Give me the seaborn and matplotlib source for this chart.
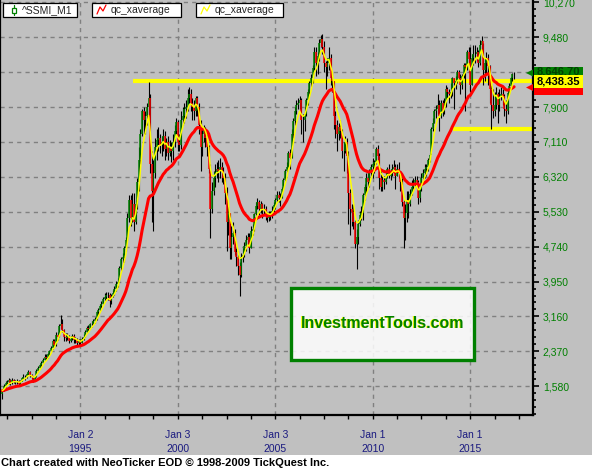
import matplotlib
matplotlib.use("Agg")
import matplotlib.pyplot as plt
import matplotlib.patches as mpatches
from matplotlib.ticker import FixedLocator, FuncFormatter
import numpy as np
import pandas as pd
import seaborn as sns

# monthly bars of ^SSMI, Jan 1991 .. Apr 2017
first_month = "1991-01-01"
first_open = 1400

close_px = [
    1480, 1580, 1650, 1680, 1720, 1660, 1720, 1700, 1680, 1700, 1640, 1680,  # 1991
    1760, 1800, 1780, 1850, 1900, 1830, 1800, 1720, 1800, 1920, 2000, 2050,  # 1992
    2100, 2180, 2250, 2230, 2300, 2370, 2450, 2600, 2520, 2750, 2700, 2950,  # 1993
    3000, 2850, 2700, 2680, 2720, 2600, 2650, 2720, 2620, 2640, 2560, 2600,  # 1994
    2560, 2650, 2700, 2800, 2900, 2880, 2980, 3000, 3050, 3100, 3250, 3300,  # 1995
    3400, 3450, 3550, 3600, 3650, 3650, 3500, 3620, 3700, 3780, 3900, 3950,  # 1996
    4250, 4450, 4500, 4700, 4900, 5400, 5800, 5400, 5700, 5300, 5700, 6200,  # 1997
    6700, 7300, 7800, 7600, 7700, 7900, 8100, 6600, 6000, 6400, 7000, 7160,  # 1998
    7200, 7050, 7100, 7250, 6950, 7100, 6850, 7000, 6900, 7100, 7350, 7570,  # 1999
    7100, 7050, 7600, 7700, 7850, 7900, 8100, 8200, 8000, 7900, 7800, 8100,  # 2000
    7900, 7500, 7000, 7300, 7400, 7200, 7000, 6500, 5600, 6000, 6300, 6420,  # 2001
    6500, 6450, 6550, 6450, 6300, 5950, 5300, 5500, 4700, 4950, 5050, 4630,  # 2002
    4500, 4300, 4100, 4500, 4550, 4750, 4900, 4950, 4700, 5100, 5150, 5490,  # 2003
    5650, 5750, 5600, 5700, 5600, 5600, 5450, 5400, 5450, 5450, 5550, 5690,  # 2004
    5800, 5900, 5850, 5850, 6050, 6250, 6450, 6550, 6850, 6750, 7300, 7580,  # 2005
    7800, 7950, 8000, 8050, 7600, 7600, 7750, 8050, 8250, 8450, 8550, 8790,  # 2006
    9150, 8900, 9050, 9350, 9450, 9250, 8900, 8800, 8900, 9000, 8550, 8480,  # 2007
    7700, 7500, 7300, 7450, 7350, 6900, 6900, 7100, 6800, 5950, 5600, 5530,  # 2008
    5300, 4800, 4950, 5250, 5450, 5500, 5900, 6100, 6300, 6200, 6400, 6550,  # 2009
    6600, 6650, 6950, 6800, 6300, 6100, 6250, 6200, 6300, 6500, 6350, 6440,  # 2010
    6500, 6550, 6350, 6500, 6450, 6200, 5750, 5400, 5500, 5800, 5700, 5940,  # 2011
    6100, 6150, 6250, 6200, 5850, 6050, 6300, 6400, 6500, 6550, 6700, 6820,  # 2012
    7400, 7550, 7800, 7850, 7950, 7700, 8000, 7800, 8000, 8300, 8250, 8200,  # 2013
    8250, 8550, 8450, 8500, 8700, 8550, 8400, 8600, 8850, 8800, 9150, 8980,  # 2014
    8400, 9000, 9100, 9100, 9150, 8900, 9300, 9400, 8750, 8900, 9000, 8820,  # 2015
    8300, 7950, 7800, 7950, 8200, 7950, 8150, 8200, 8150, 7850, 7800, 8220,  # 2016
    8380, 8550, 8650, 8646.7,                                                # 2017
]

high_px = [
    1520, 1620, 1700, 1720, 1760, 1740, 1760, 1750, 1730, 1740, 1720, 1720,
    1800, 1850, 1840, 1880, 1940, 1920, 1850, 1820, 1840, 1960, 2030, 2090,
    2150, 2220, 2300, 2300, 2340, 2400, 2480, 2650, 2640, 2800, 2800, 3000,
    3190, 3100, 2880, 2780, 2790, 2740, 2700, 2760, 2760, 2700, 2680, 2660,
    2640, 2700, 2760, 2850, 2940, 2960, 3020, 3060, 3100, 3150, 3280, 3350,
    3450, 3520, 3600, 3680, 3720, 3720, 3680, 3660, 3760, 3840, 3960, 4020,
    4300, 4500, 4600, 4750, 4950, 5500, 5900, 5900, 5950, 5950, 5800, 6300,
    7000, 7400, 7850, 7900, 7800, 8000, 8470, 8200, 6900, 6700, 7200, 7400,
    7450, 7300, 7250, 7400, 7350, 7200, 7250, 7150, 7100, 7300, 7500, 7650,
    7600, 7300, 7800, 7900, 8000, 8050, 8300, 8360, 8300, 8100, 8050, 8150,
    8150, 8000, 7600, 7450, 7500, 7450, 7300, 7050, 6600, 6200, 6450, 6600,
    6650, 6700, 6750, 6650, 6550, 6400, 6100, 5650, 5500, 5200, 5300, 5150,
    4700, 4650, 4400, 4600, 4700, 4850, 5000, 5050, 5050, 5200, 5250, 5500,
    5750, 5850, 5800, 5780, 5720, 5700, 5650, 5500, 5550, 5550, 5650, 5750,
    5850, 6000, 6000, 5950, 6100, 6300, 6500, 6650, 6900, 6950, 7400, 7650,
    7900, 8050, 8100, 8150, 8100, 7750, 7900, 8100, 8300, 8500, 8650, 8850,
    9250, 9250, 9150, 9450, 9530, 9550, 9400, 8950, 9000, 9250, 9100, 8700,
    8500, 7800, 7600, 7550, 7600, 7400, 7100, 7250, 7200, 6900, 6050, 5700,
    5700, 5350, 5150, 5350, 5550, 5650, 5950, 6150, 6400, 6450, 6500, 6600,
    6750, 6700, 7000, 7050, 6850, 6500, 6350, 6350, 6450, 6550, 6600, 6500,
    6600, 6700, 6600, 6600, 6650, 6450, 6300, 5800, 5700, 6000, 6000, 6050,
    6250, 6300, 6350, 6350, 6250, 6150, 6400, 6500, 6600, 6600, 6750, 6850,
    7450, 7650, 7850, 7950, 8200, 8050, 8050, 8050, 8100, 8400, 8350, 8300,
    8450, 8580, 8550, 8600, 8750, 8750, 8650, 8650, 8900, 8900, 9200, 9250,
    9250, 9100, 9300, 9300, 9250, 9200, 9420, 9500, 9350, 9000, 9150, 9100,
    8850, 8400, 8300, 8250, 8350, 8250, 8300, 8350, 8300, 8200, 8050, 8300,
    8450, 8580, 8680, 8690,
]

low_px = [
    1300, 1470, 1560, 1620, 1640, 1600, 1640, 1650, 1630, 1640, 1600, 1610,
    1690, 1740, 1730, 1760, 1830, 1790, 1740, 1680, 1700, 1790, 1900, 1970,
    2020, 2080, 2170, 2180, 2220, 2280, 2380, 2430, 2460, 2500, 2620, 2690,
    2880, 2800, 2600, 2600, 2620, 2560, 2580, 2620, 2560, 2570, 2480, 2500,
    2480, 2550, 2620, 2700, 2780, 2820, 2880, 2920, 2960, 3020, 3080, 3200,
    3280, 3350, 3440, 3500, 3560, 3540, 3380, 3440, 3600, 3650, 3740, 3820,
    3950, 4200, 4350, 4400, 4650, 4900, 5300, 5200, 5300, 5100, 5250, 5600,
    6000, 6600, 7250, 7300, 7300, 7500, 7700, 6400, 5300, 5100, 6300, 6700,
    6900, 6850, 6800, 6900, 6700, 6800, 6700, 6800, 6650, 6700, 7000, 7300,
    6900, 6900, 6950, 7500, 7550, 7650, 7800, 8000, 7800, 7600, 7600, 7700,
    7700, 7300, 6450, 6800, 7100, 7000, 6800, 6400, 4935, 5500, 5900, 6100,
    6300, 6200, 6300, 6200, 6150, 5700, 4640, 5000, 4450, 4450, 4800, 4550,
    4300, 4100, 3620, 4050, 4400, 4500, 4650, 4800, 4600, 4700, 5000, 5100,
    5450, 5600, 5450, 5500, 5400, 5450, 5350, 5300, 5320, 5350, 5400, 5500,
    5600, 5750, 5750, 5650, 5850, 6050, 6200, 6400, 6550, 6500, 6750, 7200,
    7500, 7750, 7850, 7850, 7300, 7110, 7350, 7700, 7950, 8200, 8350, 8450,
    8750, 8600, 8650, 8950, 9250, 9100, 8700, 8300, 8600, 8750, 8400, 8250,
    7400, 7200, 6900, 7150, 7200, 6750, 6450, 6850, 6400, 5250, 5000, 5200,
    5150, 4700, 4230, 4800, 5200, 5350, 5350, 5800, 5950, 6100, 6100, 6300,
    6300, 6400, 6600, 6700, 6050, 6000, 6000, 6050, 6150, 6300, 6300, 6250,
    6350, 6400, 6050, 6350, 6300, 6000, 5650, 4700, 4900, 5300, 5400, 5650,
    5900, 6050, 6100, 6050, 5700, 5750, 6000, 6250, 6300, 6350, 6450, 6650,
    6900, 7350, 7550, 7650, 7750, 7350, 7650, 7700, 7750, 7900, 8100, 8000,
    8100, 8150, 7860, 8300, 8450, 8500, 8200, 8300, 8550, 7820, 8750, 8700,
    8250, 8400, 8850, 8900, 8950, 8800, 8850, 9100, 8400, 8500, 8650, 8400,
    8000, 7410, 7650, 7700, 7850, 7550, 7800, 8050, 7950, 7700, 7550, 7750,
    8200, 8300, 8500, 8540,
]

red_span = 26
yellow_span = 5

resist_level = 8480
resist_from = 1997.7
support_level = 7400
support_from = 2014.1

major_years = [1995, 2000, 2005, 2010, 2015]
major_labels = ["Jan 2\n1995", "Jan 3\n2000", "Jan 3\n2005", "Jan 1\n2010", "Jan 1\n2015"]
price_ticks = [1580, 2370, 3160, 3950, 4740, 5530, 6320, 7110, 7900, 8690, 9480, 10270]

last_close_text = "8,646.70"
yellow_value_text = "8,438.35"

# ---- frame -----------------------------------------------------------
dates = pd.date_range(first_month, periods=len(close_px), freq="MS")
df = pd.DataFrame({
    "t": dates.year + (dates.month - 1) / 12,
    "close": close_px,
    "high": high_px,
    "low": low_px,
})
df["open"] = df["close"].shift(1).fillna(first_open)
df["red"] = df["close"].ewm(span=red_span, adjust=False).mean()
df["yellow"] = df["close"].ewm(span=yellow_span, adjust=False).mean()

sns.set_style("ticks")
plt.rcParams["font.family"] = ["Liberation Sans", "DejaVu Sans"]

W, H = 592, 470
fig = plt.figure(figsize=(W / 100, H / 100), dpi=100)
fig.patch.set_facecolor("#C0C0C0")


def fx(px):
    return px / W


def fy(py):
    return 1 - py / H


def fig_rect(x0, y0, x1, y1, **kw):
    r = mpatches.Rectangle((fx(x0), fy(y1)), (x1 - x0) / W, (y1 - y0) / H,
                           transform=fig.transFigure, **kw)
    fig.add_artist(r)
    return r


# white strip under the chart
fig_rect(0, 455, W, H, facecolor="white", edgecolor="none", zorder=0)

ax = fig.add_axes([0, fy(415), 533 / W, 415 / H])
ax.set_facecolor("#C0C0C0")
ax.set_xlim(1990.88, 2018.22)
ax.set_ylim(929, 10324)

ax.grid(True, which="major", color="#808080", linestyle=(0, (3, 3)), linewidth=1.0)

# support / resistance
ax.hlines(resist_level, resist_from, 2018.22, color="#FFFF00", lw=3, zorder=1.5)
ax.hlines(support_level, support_from, 2018.22, color="#FFFF00", lw=3, zorder=1.5)

# monthly bars
up = df["close"] >= df["open"]
ax.vlines(df["t"], df["low"], df["high"], color="black", lw=0.8, zorder=2)
ax.vlines(df["t"][up], df["open"][up], df["close"][up], color="#008000", lw=1.1, zorder=3)
ax.vlines(df["t"][~up], df["close"][~up], df["open"][~up], color="#FF0000", lw=1.1, zorder=3)

sns.lineplot(data=df, x="t", y="red", color="#FF0000", lw=2.2, ax=ax, zorder=4)
sns.lineplot(data=df, x="t", y="yellow", color="#FFFF00", lw=1.1, ax=ax, zorder=5)
ax.set_xlabel("")
ax.set_ylabel("")

# axes styling
for s in ["left", "bottom", "right"]:
    ax.spines[s].set_color("black")
    ax.spines[s].set_linewidth(1.6)
ax.spines["top"].set_visible(False)

ax.yaxis.tick_right()
ax.yaxis.set_major_locator(FixedLocator(price_ticks))
ax.yaxis.set_minor_locator(FixedLocator(np.arange(948, 10324, 158)))
ax.yaxis.set_major_formatter(FuncFormatter(lambda v, p: f"{int(v):,}"))
ax.tick_params(axis="y", which="major", length=4, width=1.2, color="black",
               labelcolor="#008000", labelsize=7.5, pad=3)
ax.tick_params(axis="y", which="minor", length=2.5, width=1.2, color="black")

ax.xaxis.set_major_locator(FixedLocator(major_years))
ax.xaxis.set_minor_locator(FixedLocator(np.arange(1991.25, 2018, 1.25)))
ax.set_xticklabels(major_labels, linespacing=1.45)
ax.tick_params(axis="x", which="both", length=3, width=1.0, color="black",
               labelcolor="#1a1a80", labelsize=7.5, pad=8)

# legend boxes at top
legend_boxes = [(3, 77, "^SSMI_M1"), (92, 181, "qc_xaverage"), (196, 283, "qc_xaverage")]
for x0, x1, label in legend_boxes:
    fig_rect(x0, 3, x1, 17, facecolor="white", edgecolor="black", lw=0.9, zorder=10)
    fig.text(fx(x0 + 19), fy(10.3), label, fontsize=7.5, va="center", ha="left", zorder=11)
fig.add_artist(plt.Line2D([fx(13.5), fx(13.5)], [fy(5), fy(15)], color="#008000",
                          lw=0.9, transform=fig.transFigure, zorder=11))
fig_rect(11.5, 7.5, 15.5, 12.5, facecolor="white", edgecolor="#008000", lw=0.9, zorder=12)
for x0, col in [(97, "#FF0000"), (201, "#FFFF00")]:
    fig.add_artist(plt.Line2D([fx(x0), fx(x0 + 3), fx(x0 + 6), fx(x0 + 9)],
                              [fy(14), fy(7), fy(11), fy(5)], color=col, lw=0.9,
                              transform=fig.transFigure, zorder=11))

# last-value tags on the price axis
fig_rect(534, 80, 583, 95, facecolor="#FF0000", edgecolor="none", zorder=10)
fig_rect(534, 66.7, 583, 80, facecolor="#008000", edgecolor="none", zorder=10)
fig.text(fx(558), fy(72), last_close_text, fontsize=8, fontweight="bold", color="#004000",
         ha="center", va="center", zorder=11)
fig_rect(534, 75, 583, 88.3, facecolor="#FFFF00", edgecolor="none", zorder=12)
fig.text(fx(558), fy(81.8), yellow_value_text, fontsize=8, fontweight="bold", color="black",
         ha="center", va="center", zorder=13)
for yc, col in [(73, "#008000"), (87.5, "#FF0000")]:
    fig.add_artist(mpatches.Polygon([[fx(526), fy(yc)], [fx(533), fy(yc - 3.5)], [fx(533), fy(yc + 3.5)]],
                                    closed=True, transform=fig.transFigure,
                                    facecolor=col, edgecolor="none", zorder=13))

# watermark box
fig_rect(290, 287, 475, 361, facecolor="white", edgecolor="none", alpha=0.85, zorder=8)
fig_rect(291, 288, 474, 360, facecolor="none", edgecolor="#008000", lw=2.4, zorder=9)
fig.text(fx(383) - 1 / W, fy(324) + 1 / H, "InvestmentTools.com", fontsize=11.5, fontweight="bold",
         color="#FFFF00", ha="center", va="center", zorder=9)
fig.text(fx(383), fy(324), "InvestmentTools.com", fontsize=11.5, fontweight="bold",
         color="#008000", ha="center", va="center", zorder=10)

fig.text(fx(1), fy(463), "Chart created with NeoTicker EOD \u00a9 1998-2009 TickQuest Inc.",
         fontsize=8, fontweight="bold", color="black", ha="left", va="center")

fig.savefig("out.png", dpi=100, facecolor=fig.get_facecolor())
